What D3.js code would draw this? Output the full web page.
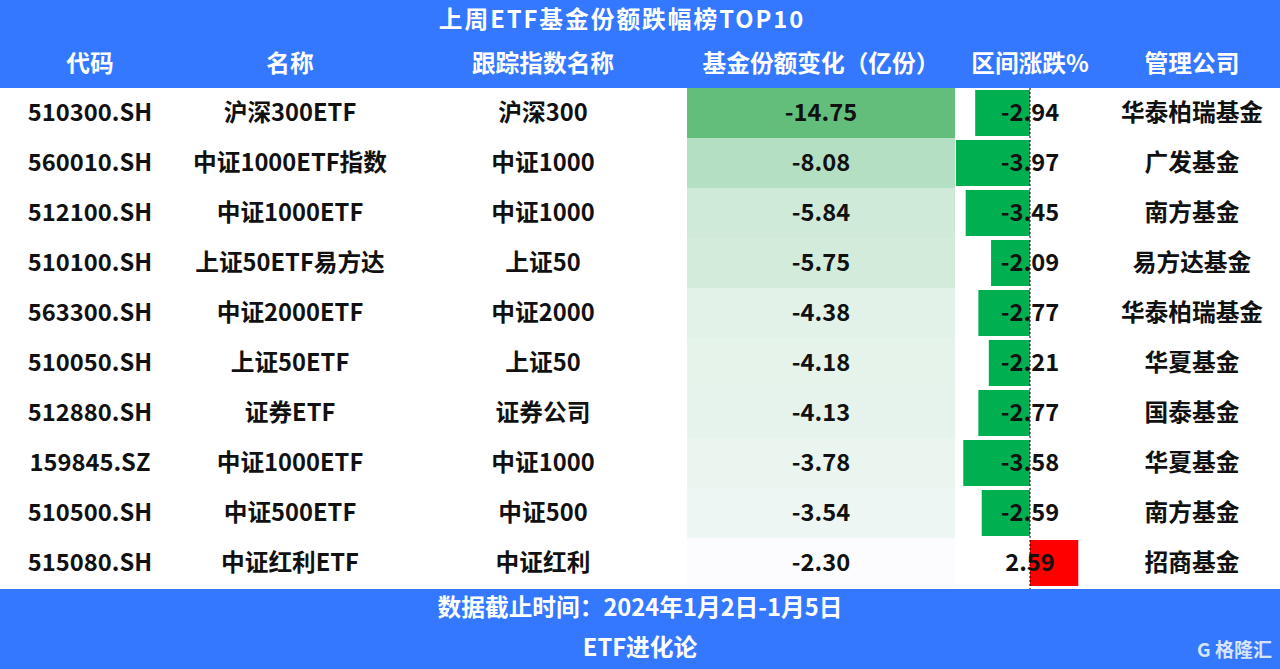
<!DOCTYPE html>
<html><head><meta charset="utf-8">
<script src="https://cdn.jsdelivr.net/npm/d3@7"></script>
<style>body{margin:0;background:#fff}svg{display:block;font-family:"Noto Sans CJK SC","Noto Sans",sans-serif}</style>
</head><body><svg id="c" width="1280" height="669"></svg>
<script>
var codes = ["510300.SH","560010.SH","512100.SH","510100.SH","563300.SH","510050.SH","512880.SH","159845.SZ","510500.SH","515080.SH"];
var names = ["沪深300ETF","中证1000ETF指数","中证1000ETF","上证50ETF易方达","中证2000ETF","上证50ETF","证券ETF","中证1000ETF","中证500ETF","中证红利ETF"];
var indexes = ["沪深300","中证1000","中证1000","上证50","中证2000","上证50","证券公司","中证1000","中证500","中证红利"];
var shareChange = [-14.75,-8.08,-5.84,-5.75,-4.38,-4.18,-4.13,-3.78,-3.54,-2.30];
var pctChange = [-2.94,-3.97,-3.45,-2.09,-2.77,-2.21,-2.77,-3.58,-2.59,2.59];
var companies = ["华泰柏瑞基金","广发基金","南方基金","易方达基金","华泰柏瑞基金","华夏基金","国泰基金","华夏基金","南方基金","招商基金"];
var headers = ["代码","名称","跟踪指数名称","基金份额变化（亿份）","区间涨跌%","管理公司"];
var colCenters = [90,290,543,821,1030,1192];

var svg = d3.select("#c"), blue = "#3478ff", fs = 23.7;
var y = d3.scaleBand().domain(d3.range(codes.length)).range([88,588]);
var heat = d3.scaleLinear().domain([d3.max(shareChange), d3.min(shareChange)]).range(["#fcfcff","#63be7b"]);
var x = d3.scaleLinear().domain([-3.97, 0]).range([956, 1030]);

svg.append("rect").attr("width",1280).attr("height",88).attr("fill",blue);
svg.append("rect").attr("y",589).attr("width",1280).attr("height",80).attr("fill",blue);
svg.append("text").attr("x",622).attr("y",20).attr("dy","0.35em").attr("text-anchor","middle").attr("letter-spacing",2)
  .attr("fill","#fff").attr("font-size",fs).attr("font-weight","bold").text("上周ETF基金份额跌幅榜TOP10");
svg.selectAll(".h").data(headers).join("text").attr("x",(d,i)=>colCenters[i]).attr("y",64).attr("dy","0.35em")
  .attr("text-anchor","middle").attr("fill","#fff").attr("font-size",fs).attr("font-weight","bold").text(d=>d);

var rows = svg.selectAll(".r").data(codes).join("g").attr("transform",(d,i)=>"translate(0,"+y(i)+")");
rows.append("rect").attr("x",687).attr("width",268).attr("height",y.bandwidth()).attr("fill",(d,i)=>heat(shareChange[i]));
rows.append("rect").attr("x",(d,i)=>x(Math.min(0,pctChange[i]))).attr("y",2).attr("height",y.bandwidth()-4)
  .attr("width",(d,i)=>Math.abs(x(pctChange[i])-x(0))).attr("fill",(d,i)=>pctChange[i]<0?"#00b050":"#ff0000");
var cols = [codes,names,indexes,shareChange.map(v=>v.toFixed(2)),pctChange.map(v=>v.toFixed(2)),companies];
cols.forEach(function(col,c){
  rows.append("text").attr("x",colCenters[c]).attr("y",y.bandwidth()/2).attr("dy","0.35em").attr("text-anchor","middle")
    .attr("font-size",fs).attr("font-weight","bold").attr("fill","#111").text((d,i)=>col[i]);
});
svg.append("line").attr("x1",x(0)).attr("x2",x(0)).attr("y1",88).attr("y2",589).attr("stroke","#000").attr("stroke-dasharray","2,2");

svg.append("text").attr("x",640).attr("y",608).attr("dy","0.35em").attr("text-anchor","middle").attr("fill","#fff")
  .attr("font-size",fs).attr("font-weight","bold").text("数据截止时间：2024年1月2日-1月5日");
svg.append("text").attr("x",640).attr("y",648).attr("dy","0.35em").attr("text-anchor","middle").attr("fill","#fff")
  .attr("font-size",fs).attr("font-weight","bold").text("ETF进化论");
svg.append("text").attr("x",1272).attr("y",657).attr("text-anchor","end").attr("fill","#fff").attr("opacity",0.8)
  .attr("font-size",19).attr("font-weight","bold").text("G 格隆汇");
</script></body></html>
